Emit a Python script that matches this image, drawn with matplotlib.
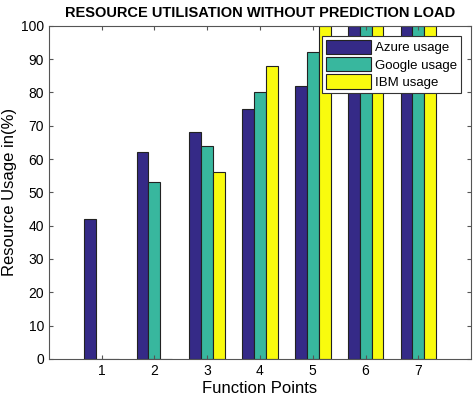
import matplotlib
matplotlib.use("Agg")
import matplotlib.pyplot as plt
import numpy as np

plt.rcParams['font.family'] = ['Liberation Sans', 'DejaVu Sans']

points = [1, 2, 3, 4, 5, 6, 7]
azure = [42, 62, 68, 75, 82, 100, 100]
google = [0, 53, 64, 80, 92, 100, 100]
ibm = [0, 0, 56, 88, 100, 100, 100]
labels = ['Azure usage', 'Google usage', 'IBM usage']
colors = ['#352A87', '#38B79E', '#F9FB0E']

fig = plt.figure(figsize=(4.74, 3.97), dpi=100)
ax = fig.add_axes([0.103, 0.096, 0.891, 0.839])

x = np.array(points)
w = 0.225
for i, (vals, lab, c) in enumerate(zip([azure, google, ibm], labels, colors)):
    ax.bar(x + (i - 1) * w, vals, width=w, color=c, edgecolor='#222222',
           linewidth=0.8, label=lab)

ax.set_xlim(0, 8)
ax.set_ylim(0, 100)
ax.set_xticks(points)
ax.set_yticks(range(0, 101, 10))
ax.tick_params(direction='in', top=True, right=True, labelsize=10, length=3,
               color='#555555')
for s in ax.spines.values():
    s.set_color('#555555')

ax.set_title('RESOURCE UTILISATION WITHOUT PREDICTION LOAD', fontsize=10.5,
             fontweight='bold', pad=6)
ax.set_xlabel('Function Points', fontsize=12, labelpad=2)
ax.set_ylabel('Resource Usage in(%)', fontsize=12, labelpad=3)

leg = ax.legend(loc='upper right', bbox_to_anchor=(0.975, 0.97), fontsize=9.5,
                fancybox=False, framealpha=1, edgecolor='#333333',
                handlelength=3.4, handleheight=1.3, borderpad=0.3,
                labelspacing=0.2, handletextpad=0.3, borderaxespad=0)
leg.get_frame().set_linewidth(0.8)

fig.savefig('out.png', dpi=100)
